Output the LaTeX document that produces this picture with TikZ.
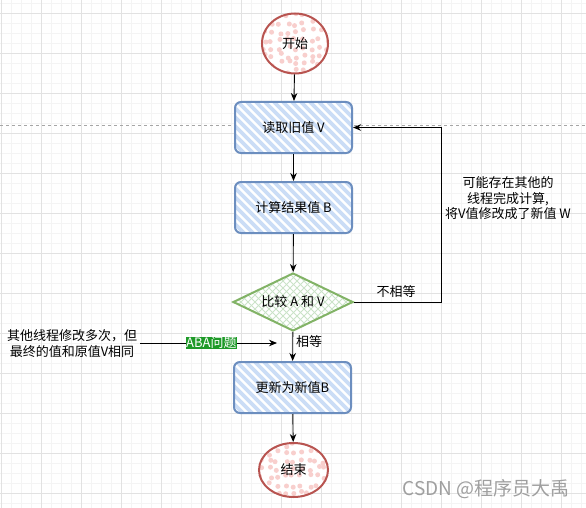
\documentclass[tikz,border=0pt]{standalone}
\usepackage{fontspec}
\setmainfont{Noto Sans CJK SC}
\usetikzlibrary{arrows.meta,shapes.geometric}
\definecolor{gridminor}{HTML}{F4F4F4}
\definecolor{gridmajor}{HTML}{E2E2E2}
\definecolor{bstroke}{HTML}{6C8EBF}
\definecolor{bhatch}{HTML}{CBDDF6}
\definecolor{rstroke}{HTML}{B85450}
\definecolor{rdot}{HTML}{F8CFCD}
\definecolor{gstroke}{HTML}{82B366}
\definecolor{ghatch}{HTML}{CBE3C8}
\definecolor{abagreen}{HTML}{1E9A28}
\tikzset{
  stepbox/.style={draw=bstroke, line width=2pt, rounded corners=6pt, fill=white,
    minimum width=117pt, minimum height=51pt, inner sep=0pt, font=\fontsize{13}{15}\selectfont,
    path picture={\foreach \i in {-60,-51,...,124} \draw[line width=3.6pt, bhatch, line cap=round]
      ([xshift=\i pt]path picture bounding box.north west) -- ++(60,60);}},
  termnode/.style={ellipse, draw=rstroke, line width=2pt, fill=white, inner sep=0pt,
    font=\fontsize{13}{15}\selectfont,
    path picture={\pgfmathsetseed{#1}\foreach \gx in {2,10,...,74}{\foreach \gy in {2,10,...,66}{
      \pgfmathsetmacro\px{\gx+rand*2.6}\pgfmathsetmacro\py{\gy+rand*2.6}
      \fill[rdot] ([shift={(\px,\py)}]path picture bounding box.north west) circle (2.5pt);}}}},
  decision/.style={diamond, draw=gstroke, line width=2pt, fill=white, inner sep=0pt, aspect=2.07,
    minimum width=120pt, minimum height=58pt, font=\fontsize{13}{15}\selectfont,
    path picture={\foreach \i in {-70,-63,...,130}{
      \draw[line width=0.8pt, ghatch] ([xshift=\i pt]path picture bounding box.north west) -- ++(70,70);
      \draw[line width=0.8pt, ghatch] ([xshift=\i pt]path picture bounding box.south west) -- ++(70,-70);}}},
  arr/.style={draw=black, line width=0.9pt, -{Stealth[length=8pt,width=6.5pt]}},
  lbl/.style={font=\fontsize{13}{15.5}\selectfont, align=center, inner sep=1pt},
}
\begin{document}
\begin{tikzpicture}[x=1pt,y=-1pt]
\useasboundingbox (0,0) rectangle (586,508);
\fill[white] (0,0) rectangle (586,508);
% grid
\foreach \x in {1,11,...,581} \draw[gridminor, line width=0.8pt] (\x,0) -- (\x,508);
\foreach \y in {3.3,13.3,...,503.3} \draw[gridminor, line width=0.8pt] (0,\y) -- (586,\y);
\foreach \x in {1,41,...,561} \draw[gridmajor, line width=0.8pt] (\x,0) -- (\x,508);
\foreach \y in {13.3,53.3,...,493.3} \draw[gridmajor, line width=0.8pt] (0,\y) -- (586,\y);
\draw[gray!70, line width=0.8pt, dash pattern=on 3pt off 3pt] (0,125.3) -- (586,125.3);

% nodes
\node[termnode=7, minimum width=66pt, minimum height=60pt] (start) at (295,43.5) {开始};
\node[stepbox] (b1) at (293.5,127.5) {读取旧值 V};
\node[stepbox] (b2) at (293.5,207.5) {计算结果值 B};
\node[decision] (d) at (293,302) {比较 A 和 V};
\node[stepbox] (b3) at (292.5,387.5) {更新为新值B};
\node[termnode=11, minimum width=69pt, minimum height=54pt] (end) at (293.5,470) {结束};

% connectors
\draw[arr] (start) -- (b1);
\draw[arr] (b1) -- (b2);
\draw[arr] (b2) -- (d);
\coordinate (rc) at (441,302);
\draw[arr] (d.east) -- (rc) |- (b1.east);
\draw[arr] (d) -- (b3);
\draw[arr] (b3) -- (end);

% labels
\node[lbl] (ne) at (396,292) {不相等};
\node[lbl] (eq) at (309,342) {相等};
\node[lbl] (note) at (508,198.5) {可能存在其他的\\线程完成计算,\\将V值修改成了新值 W};
\node[lbl] (lt) at (72,343.5) {其他线程修改多次，但\\最终的值和原值V相同};
\coordinate (abaend) at (277,343);
\draw[arr] (lt.east |- abaend) ++(2,0) -- (abaend)
  node[pos=0.52, fill=abagreen, text=white, inner sep=0.5pt, font=\fontsize{13}{15}\selectfont] (aba) {ABA问题};

% watermark
\node[font=\fontsize{19}{22}\selectfont, text=gray!75, inner sep=0pt] (wm) at (486,489) {CSDN @程序员大禹};
\end{tikzpicture}
\end{document}
